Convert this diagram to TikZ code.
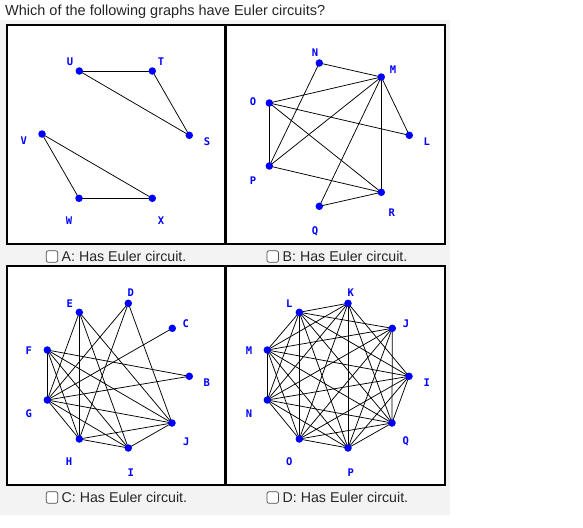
\documentclass[tikz,border=0pt]{standalone}
\usepackage{fontspec}
\setmainfont{Liberation Sans}
\newfontfamily\lblfont{DejaVu Sans Mono}
\definecolor{pagegray}{RGB}{243,243,243}
\definecolor{nodeblue}{RGB}{0,0,255}
\pgfdeclarelayer{paper}
\pgfdeclarelayer{edges}
\pgfsetlayers{paper,edges,main}
\begin{document}
\begin{tikzpicture}[x=1pt,y=-1pt,
  v/.style={circle,fill=nodeblue,inner sep=0pt,minimum size=7.5pt},
  lbl/.style={text=nodeblue,font=\lblfont\bfseries\fontsize{10.5}{11}\selectfont,inner sep=0pt},
  e/.style={line width=0.75pt,black},
  panel/.style={draw=black,fill=white,line width=1.5pt},
  cbox/.style={draw=black!70,fill=white,rounded corners=2pt,line width=0.7pt,minimum size=11.5pt,inner sep=0pt},
  captxt/.style={anchor=west,inner sep=0pt,font=\fontsize{14.2}{16}\selectfont,text=black!85}]
\useasboundingbox (0,0) rectangle (583,527);
\begin{pgfonlayer}{paper}
\fill[white] (0,0) rectangle (583,527);
\fill[pagegray] (0,20) rectangle (450,515);
\draw[panel] (7,25) rectangle (225,244);
\draw[panel] (226.5,25) rectangle (445,244);
\draw[panel] (7,266) rectangle (225,485);
\draw[panel] (226.5,266) rectangle (445,485);
\end{pgfonlayer}
\node[anchor=west,inner sep=0pt,font=\fontsize{14.5}{16}\selectfont,text=black!85] (title) at (5,11.5) {Which of the following graphs have Euler circuits?};
% ---- Panel A
\node[v] (aU) at (79.3,71) {};
\node[v] (aT) at (152.3,71) {};
\node[v] (aS) at (189.3,135.3) {};
\node[v] (aV) at (42,134) {};
\node[v] (aW) at (79,198.3) {};
\node[v] (aX) at (152.3,198.3) {};
\node[lbl] (laU) at (70,61.7) {U};
\node[lbl] (laT) at (161,61.7) {T};
\node[lbl] (laS) at (207,142) {S};
\node[lbl] (laV) at (23.7,140.7) {V};
\node[lbl] (laW) at (69,221) {W};
\node[lbl] (laX) at (161,221) {X};
\begin{pgfonlayer}{edges}
\foreach \a/\b in {U/T,U/S,T/S,V/W,V/X,W/X}
  \draw[e] (a\a.center) -- (a\b.center);
\end{pgfonlayer}
% ---- Panel B
\node[v] (bN) at (319.3,63) {};
\node[v] (bM) at (381.3,77) {};
\node[v] (bO) at (269.3,103) {};
\node[v] (bL) at (409.3,135.3) {};
\node[v] (bP) at (269.3,166) {};
\node[v] (bR) at (381.3,192.3) {};
\node[v] (bQ) at (319.3,206.3) {};
\node[lbl] (lbN) at (315,52.3) {N};
\node[lbl] (lbM) at (393,70) {M};
\node[lbl] (lbO) at (253,101.7) {O};
\node[lbl] (lbL) at (426.7,142) {L};
\node[lbl] (lbP) at (253,181) {P};
\node[lbl] (lbR) at (391.7,212.7) {R};
\node[lbl] (lbQ) at (315,231) {Q};
\begin{pgfonlayer}{edges}
\foreach \a/\b in {N/M,N/P,M/O,M/P,M/Q,M/L,M/R,O/P,O/L,O/R,P/R,Q/R}
  \draw[e] (b\a.center) -- (b\b.center);
\end{pgfonlayer}
% ---- Panel C
\node[v] (cD) at (128.3,303.3) {};
\node[v] (cE) at (79.3,312.3) {};
\node[v] (cC) at (172.3,328.3) {};
\node[v] (cF) at (47.3,350) {};
\node[v] (cB) at (189.3,376.3) {};
\node[v] (cG) at (47.3,400) {};
\node[v] (cJ) at (172,423) {};
\node[v] (cH) at (79.3,439) {};
\node[v] (cI) at (128.3,448) {};
\node[lbl] (lcD) at (130.7,292.3) {D};
\node[lbl] (lcE) at (69.7,303.3) {E};
\node[lbl] (lcC) at (185.7,324) {C};
\node[lbl] (lcF) at (28.7,350.7) {F};
\node[lbl] (lcB) at (206.7,383) {B};
\node[lbl] (lcG) at (28.7,414) {G};
\node[lbl] (lcJ) at (186.3,441.7) {J};
\node[lbl] (lcH) at (69,461.7) {H};
\node[lbl] (lcI) at (130.7,472.3) {I};
\begin{pgfonlayer}{edges}
\foreach \a/\b in {F/G,E/H,E/G,E/I,E/J,D/G,D/H,D/J,C/G,B/F,B/G,F/J,F/I,F/H,G/J,G/I,G/H,H/I,H/J,I/J}
  \draw[e] (c\a.center) -- (c\b.center);
\end{pgfonlayer}
% ---- Panel D
\node[v] (dK) at (348,303.3) {};
\node[v] (dL) at (299.3,312.3) {};
\node[v] (dJ) at (392.3,328.3) {};
\node[v] (dM) at (267.3,350) {};
\node[v] (dI) at (409,376.3) {};
\node[v] (dN) at (267.3,400) {};
\node[v] (dQ) at (392,423) {};
\node[v] (dO) at (299.3,439) {};
\node[v] (dP) at (348,448) {};
\node[lbl] (ldK) at (350.7,292.3) {K};
\node[lbl] (ldL) at (289.3,303.3) {L};
\node[lbl] (ldJ) at (406,323.3) {J};
\node[lbl] (ldM) at (249,351) {M};
\node[lbl] (ldI) at (426.7,383) {I};
\node[lbl] (ldN) at (249,414) {N};
\node[lbl] (ldQ) at (405.7,441.7) {Q};
\node[lbl] (ldO) at (289.3,461.7) {O};
\node[lbl] (ldP) at (350.7,472.3) {P};
\begin{pgfonlayer}{edges}
\foreach \a/\b in {K/L,K/M,K/I,K/N,K/Q,K/O,K/P,
                   L/J,L/M,L/I,L/N,L/Q,L/O,L/P,
                   J/M,J/N,J/Q,J/O,J/P,
                   M/I,M/N,M/Q,M/O,M/P,
                   I/N,I/Q,I/O,I/P,
                   N/Q,N/O,N/P,
                   Q/O,Q/P,O/P}
  \draw[e] (d\a.center) -- (d\b.center);
\end{pgfonlayer}
% ---- captions
\node[cbox] (boxA) at (52,256.5) {};
\node[captxt] (capA) at (61.5,256) {A: Has Euler circuit.};
\node[cbox] (boxB) at (272.7,256.5) {};
\node[captxt] (capB) at (282.5,256) {B: Has Euler circuit.};
\node[cbox] (boxC) at (52,497.5) {};
\node[captxt] (capC) at (61.5,497) {C: Has Euler circuit.};
\node[cbox] (boxD) at (272.7,497.5) {};
\node[captxt] (capD) at (282.5,497) {D: Has Euler circuit.};
\end{tikzpicture}
\end{document}
